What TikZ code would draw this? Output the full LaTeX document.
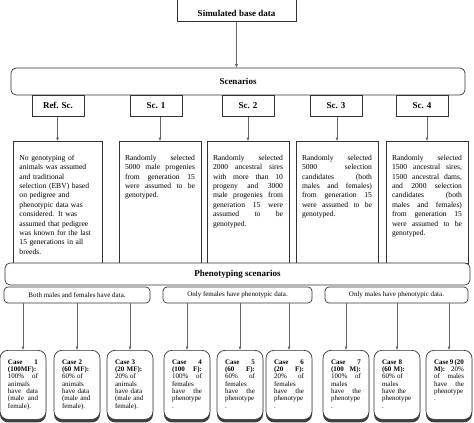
\documentclass[tikz,border=0pt]{standalone}
\usepackage{fontspec}
\setmainfont{Liberation Serif}
\usetikzlibrary{arrows,arrows.meta,positioning,shapes,shadows}

\newcommand{\nohyph}{\hyphenpenalty=10000\relax\exhyphenpenalty=10000\relax\emergencystretch=10pt\relax}
\newcommand{\lb}{\linebreak}

\begin{document}
\begin{tikzpicture}[x=1pt, y=-1pt,
    box/.style={draw=black!80, line width=0.7pt, fill=white},
    rbox/.style={box, rounded corners=5pt},
    head/.style={font=\fontsize{9}{10}\selectfont\bfseries},
    arr/.style={-{Latex[length=3.5pt,width=3pt]}, draw=black!60, line width=0.5pt},
    labelbox/.style={box, head, anchor=north, minimum width=52pt, minimum height=21pt, inner sep=0pt},
    desc/.style={box, anchor=north, inner xsep=6pt, inner ysep=4pt, text width=70pt,
        text height=15pt, text depth=99pt, execute at begin node=\nohyph,
        font=\fontsize{7.6}{9.4}\selectfont},
    grp/.style={rbox, rounded corners=4pt, minimum height=16pt, inner sep=0pt,
        font=\fontsize{7}{8}\selectfont},
    casebox/.style={box, rounded corners=8pt, anchor=north, inner xsep=8pt, inner ysep=3pt,
        text width=30pt, text height=11pt, text depth=52pt, execute at begin node=\nohyph,
        drop shadow={shadow xshift=0pt, shadow yshift=-3pt, fill=black!75, opacity=1},
        font=\fontsize{7}{7.3}\selectfont}
]
    \useasboundingbox (0,0) rectangle (474,423);

    % top of the chart
    \node[box, head, anchor=south, minimum width=119pt, inner ysep=3pt,
        text height=30pt, text depth=2.5pt] (base) at (236.5,22) {Simulated base data};
    \node[rbox, head, minimum width=454pt, minimum height=27pt] (scen) at (238,81.5) {Scenarios};
    \draw[arr] (base.south) -- (base.south |- scen.north);

    % scenario labels
    \node[labelbox] (l0) at (58,95) {Ref. Sc.};
    \node[labelbox] (l1) at (156,95) {Sc. 1};
    \node[labelbox] (l2) at (248,95) {Sc. 2};
    \node[labelbox] (l3) at (336,95) {Sc. 3};
    \node[labelbox] (l4) at (422,95) {Sc. 4};

    % scenario descriptions
    \node[desc, text width=76pt, inner xsep=6.5pt, align=left] (d0) at (57.5,141)
        {No genotyping of\\animals was assumed\\and traditional\\selection (EBV) based\\on pedigree and\\phenotypic data was\\considered. It was\\assumed that pedigree\\was known for the last\\15 generations in all\\breeds.};
    \node[desc, align=justify] (d1) at (160,141)
        {Randomly selected\lb 5000 male progenies\lb from generation 15\lb were assumed to be\lb genotyped.};
    \node[desc, align=justify] (d2) at (248,141)
        {Randomly selected\lb 2000 ancestral sires\lb with more than 10\lb progeny and 3000\lb male progenies from\lb generation 15 were\lb assumed to be\lb genotyped.};
    \node[desc, align=justify] (d3) at (337,141)
        {Randomly selected\lb 5000 selection\lb candidates (both\lb males and females)\lb from generation 15\lb were assumed to be\lb genotyped.};
    \node[desc, align=justify] (d4) at (427,141)
        {Randomly selected\lb 1500 ancestral sires,\lb 1500 ancestral dams,\lb and 2000 selection\lb candidates (both\lb males and females)\lb from generation 15\lb were assumed to be\lb genotyped.};

    \foreach \i in {0,...,4}
        \draw[arr] (d\i.north |- l\i.south) -- (d\i.north);

    % phenotyping part
    \node[rbox, head, minimum width=465pt, minimum height=22pt] (phen) at (237.5,274) {Phenotyping scenarios};
    \node[grp, minimum width=146pt] (g1) at (77,295) {Both males and females have data.};
    \node[grp, minimum width=149pt] (g2) at (237.5,295) {Only females have phenotypic data.};
    \node[grp, minimum width=143pt] (g3) at (396.5,295) {Only males have phenotypic data.};

    % cases
    \node[casebox, align=justify] (c1) at (23,350) {\textbf{Case 1\lb (100MF):}\lb 100\% of\lb animals\lb have data\lb (male and\lb female).};
    \node[casebox, align=left] (c2) at (77,350) {\textbf{Case 2\\(60 MF):}\\60\% of\\animals\\have data\\(male and\\female).};
    \node[casebox, align=left] (c3) at (130,350) {\textbf{Case 3\\(20 MF):}\\20\% of\\animals\\have data\\(male and\\female).};
    \node[casebox, align=justify] (c4) at (187,350) {\textbf{Case 4\lb (100 F):}\lb 100\% of\lb females\lb have the\lb phenotype\lb .};
    \node[casebox, align=justify] (c5) at (240,350) {\textbf{Case 5\lb (60 F):}\lb 60\% of\lb females\lb have the\lb phenotype\lb .};
    \node[casebox, align=justify] (c6) at (289,350) {\textbf{Case 6\lb (20 F):}\lb 20\% of\lb females\lb have the\lb phenotype\lb .};
    \node[casebox, align=justify] (c7) at (346,350) {\textbf{Case 7\lb (100 M):}\lb 100\% of\lb males\lb have the\lb phenotype\lb .};
    \node[casebox, align=left] (c8) at (397,350) {\textbf{Case 8\\(60 M):}\\60\% of\\males\\have the\\phenotype\\.};
    \node[casebox, align=justify] (c9) at (449,350) {\textbf{Case 9 (20\lb M):} 20\%\lb of males\lb have the\lb phenotype\lb .};

    \foreach \i in {1,2,3}
        \draw[arr] (c\i.north |- g1.south) -- (c\i.north);
    \foreach \i in {4,5,6}
        \draw[arr] (c\i.north |- g2.south) -- (c\i.north);
    \foreach \i in {7,8,9}
        \draw[arr] (c\i.north |- g3.south) -- (c\i.north);
\end{tikzpicture}
\end{document}
